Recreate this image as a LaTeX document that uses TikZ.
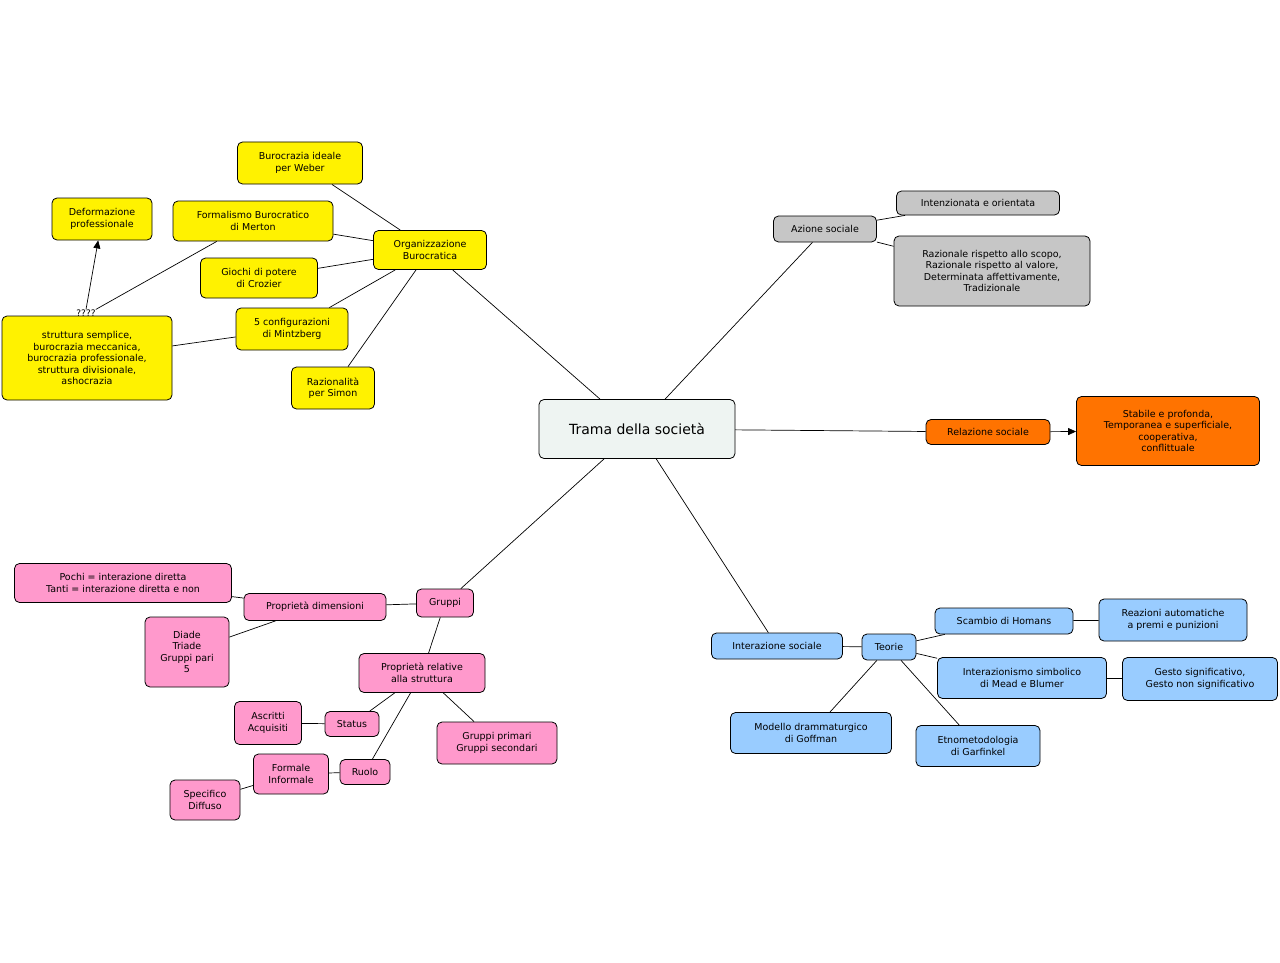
\documentclass[tikz,border=0pt]{standalone}
\usepackage{fontspec}
\setmainfont{DejaVu Sans}
\usetikzlibrary{arrows.meta}
\begin{document}
\begin{tikzpicture}[x=1pt,y=-1pt,
 box/.style={draw=black,rounded corners=5pt,align=center,font=\fontsize{9.5}{11.5}\selectfont,inner sep=3pt,line width=0.8pt},
 yel/.style={box,fill=yellow},
 gry/.style={box,fill=gray!45},
 org/.style={box,fill=orange!90!red},
 pnk/.style={box,fill={rgb,255:red,255;green,153;blue,204}},
 blu/.style={box,fill={rgb,255:red,153;green,204;blue,255}},
 ln/.style={line width=0.7pt},
 arr/.style={ln,-{Triangle[length=8pt,width=7pt]}}]
\path[use as bounding box,fill=white] (0,0) rectangle (1280,963);
\node[box,fill={rgb,255:red,238;green,244;blue,242},font=\fontsize{14}{16}\selectfont,minimum width=196pt,minimum height=59pt] (t) at (637,429) {Trama della società};
% yellow
\node[yel,minimum width=113pt,minimum height=39pt] (ob) at (430,250) {Organizzazione\\Burocratica};
\node[yel,minimum width=125pt,minimum height=42pt] (we) at (300,163) {Burocrazia ideale\\per Weber};
\node[yel,minimum width=160pt,minimum height=40pt] (me) at (253,221) {Formalismo Burocratico\\di Merton};
\node[yel,minimum width=100pt,minimum height=42pt] (de) at (102,219) {Deformazione\\professionale};
\node[yel,minimum width=117pt,minimum height=40pt] (cr) at (259,278) {Giochi di potere\\di Crozier};
\node[yel,minimum width=112pt,minimum height=42pt] (mi) at (292,329) {5 configurazioni\\di Mintzberg};
\node[yel,minimum width=170pt,minimum height=84pt] (st) at (87,358) {struttura semplice,\\burocrazia meccanica,\\burocrazia professionale,\\struttura divisionale,\\ashocrazia};
\node[font=\fontsize{9}{10}\selectfont,inner sep=0pt] (q) at (86,313) {????};
\node[yel,minimum width=83pt,minimum height=42pt] (si) at (333,388) {Razionalità\\per Simon};
\draw[ln] (ob)--(t.north west -| 600,0) ;
\draw[ln] (we)--(ob) (me)--(ob) (cr)--(ob) (mi)--(ob) (si)--(ob) (st)--(mi);
\draw[ln] (q.north east)--(me);
\draw[arr] (q.north)--(de);
% grey
\node[gry,minimum width=103pt,minimum height=26pt] (az) at (825,229) {Azione sociale};
\node[gry,minimum width=163pt,minimum height=24pt] (in) at (978,203) {Intenzionata e orientata};
\node[gry,minimum width=196pt,minimum height=70pt] (ra) at (992,271) {Razionale rispetto allo scopo,\\Razionale rispetto al valore,\\Determinata affettivamente,\\Tradizionale};
\draw[ln] (t)--(az) (az)--(in) (az)--(ra);
% orange
\node[org,minimum width=124pt,minimum height=25pt] (rs) at (988,432) {Relazione sociale};
\node[org,minimum width=183pt,minimum height=69pt] (sp) at (1168,431) {Stabile e profonda,\\Temporanea e superficiale,\\cooperativa,\\conflittuale};
\draw[ln] (t)--(rs);
\draw[arr] (rs)--(sp);
% pink
\node[pnk,minimum width=57pt,minimum height=28pt] (gr) at (445,603) {Gruppi};
\node[pnk,minimum width=142pt,minimum height=27pt] (pd) at (315,607) {Proprietà dimensioni};
\node[pnk,minimum width=217pt,minimum height=39pt] (po) at (123,583) {Pochi = interazione diretta\\Tanti = interazione diretta e non};
\node[pnk,minimum width=84pt,minimum height=70pt] (di) at (187,652) {Diade\\Triade\\Gruppi pari\\5};
\node[pnk,minimum width=126pt,minimum height=39pt] (pr) at (422,673) {Proprietà relative\\alla struttura};
\node[pnk,minimum width=54pt,minimum height=25pt] (sa) at (352,724) {Status};
\node[pnk,minimum width=67pt,minimum height=43pt] (as) at (268,723) {Ascritti\\Acquisiti};
\node[pnk,minimum width=50pt,minimum height=25pt] (ru) at (365,772) {Ruolo};
\node[pnk,minimum width=75pt,minimum height=40pt] (fo) at (291,774) {Formale\\Informale};
\node[pnk,minimum width=70pt,minimum height=40pt] (sd) at (205,800) {Specifico\\Diffuso};
\node[pnk,minimum width=120pt,minimum height=42pt] (gp) at (497,743) {Gruppi primari\\Gruppi secondari};
\draw[ln] (t)--(gr) (gr)--(pd) (pd)--(po) (pd)--(di) (gr)--(pr) (pr)--(sa) (sa)--(as) (pr)--(ru) (pr)--(gp) (ru)--(fo) (fo)--(sd);
% blue
\node[blu,minimum width=131pt,minimum height=26pt] (is) at (777,646) {Interazione sociale};
\node[blu,minimum width=54pt,minimum height=26pt] (te) at (889,647) {Teorie};
\node[blu,minimum width=138pt,minimum height=26pt] (sh) at (1004,621) {Scambio di Homans};
\node[blu,minimum width=148pt,minimum height=42pt] (re) at (1173,620) {Reazioni automatiche\\a premi e punizioni};
\node[blu,minimum width=169pt,minimum height=41pt] (iz) at (1022,678) {Interazionismo simbolico\\di Mead e Blumer};
\node[blu,minimum width=155pt,minimum height=43pt] (ge) at (1200,679) {Gesto significativo,\\Gesto non significativo};
\node[blu,minimum width=161pt,minimum height=41pt] (mo) at (811,733) {Modello drammaturgico\\di Goffman};
\node[blu,minimum width=124pt,minimum height=41pt] (et) at (978,746) {Etnometodologia\\di Garfinkel};
\draw[ln] (t)--(is) (is)--(te) (te)--(sh) (sh)--(re) (te)--(iz) (iz)--(ge) (te)--(mo) (te)--(et);
\end{tikzpicture}
\end{document}
